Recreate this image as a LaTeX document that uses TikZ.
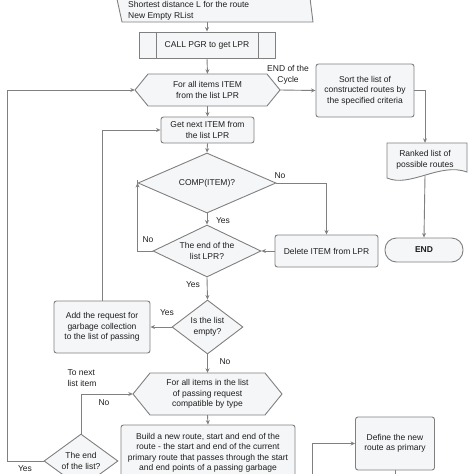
\documentclass[tikz,border=0pt]{standalone}
\usepackage{fontspec}
\setmainfont{Liberation Sans}
\usetikzlibrary{arrows.meta,shapes.geometric,calc}
\definecolor{linec}{HTML}{808080}
\definecolor{boxfill}{HTML}{F4F6F7}
\definecolor{txtc}{HTML}{1E1E1E}
\tikzset{
  box/.style={draw=linec, fill=boxfill, rounded corners=2.5pt, inner sep=0pt, align=center, line width=0.9pt},
  shp/.style={draw=linec, fill=boxfill, line width=0.9pt},
  dia/.style={diamond, draw=linec, fill=boxfill, line width=0.9pt, inner sep=0pt},
  conn/.style={draw=linec, line width=0.9pt, -{Stealth[length=4.5pt,width=4pt]}},
  plain/.style={draw=linec, line width=0.9pt},
  lbl/.style={inner sep=0pt, align=center},
  ghost/.style={inner sep=0pt, align=center}
}
\begin{document}
\begin{tikzpicture}[x=1pt, y=-1pt, font=\fontsize{8.5}{10.5}\selectfont, text=txtc]
\useasboundingbox (0,0) rectangle (474,474);
\clip (0,0) rectangle (474,474);

% input parallelogram (top, cut off)
\draw[shp] (115,-10) -- (309,-10) -- (313,22) -- (122,22) -- cycle;
\node[lbl, align=left, anchor=west] (inp) at (128,11) {Shortest distance L for the route\\New Empty RList};
\coordinate (inpb) at (207,22);

% predefined process
\node[box, rounded corners=0pt, minimum width=136, minimum height=26] (call) at (207,45) {CALL PGR to get LPR};
\draw[plain] ([xshift=18pt]call.north west) -- ([xshift=18pt]call.south west);
\draw[plain] ([xshift=-17pt]call.north east) -- ([xshift=-17pt]call.south east);

% hexagon 1
\draw[shp] (135,90) -- (148,74) -- (267,74) -- (280,90) -- (267,106) -- (148,106) -- cycle;
\node[ghost, minimum width=145, minimum height=32] (hex1) at (207.5,90) {For all items ITEM\\from the list LPR};

% sort box
\node[box, minimum width=98, minimum height=53] (sort) at (365,90.5) {Sort the list of\\constructed routes by\\the specified criteria};

% document
\draw[shp] (387,143) -- (467,143) -- (467,172) .. controls (440,162) and (410,188) .. (387,178) -- cycle;
\node[ghost, minimum width=76, minimum height=34] (docn) at (425,160) {Ranked list of\\possible routes};
\coordinate (docb) at (425,175.5);

% END terminal
\node[box, rounded corners=11.5pt, minimum width=78, minimum height=24, font=\fontsize{8.5}{10.5}\selectfont\bfseries] (endn) at (424,250) {END};

% get next
\node[box, minimum width=93, minimum height=26] (next) at (207.5,130) {Get next ITEM from\\the list LPR};

% COMP diamond
\node[dia, minimum width=138, minimum height=60] (comp) at (207,183) {};
\node[lbl] (compt) at (comp) {COMP(ITEM)?};

% end of list LPR diamond
\node[dia, minimum width=108, minimum height=52] (ep) at (207,251) {};
\node[lbl] (ept) at (ep) {The end of the\\list LPR?};

% delete
\node[box, minimum width=103, minimum height=32] (del) at (326.5,251) {Delete ITEM from LPR};

% is the list empty diamond
\node[dia, minimum width=71, minimum height=54] (empty) at (207.5,327) {};
\node[lbl] (emptyt) at (empty) {Is the list\\empty?};

% add request
\node[box, minimum width=96, minimum height=52] (add) at (102,327) {Add the request for\\garbage collection\\to the list of passing};

% hexagon 2
\draw[shp] (133,394) -- (150,373) -- (265,373) -- (282,394) -- (265,415) -- (150,415) -- cycle;
\node[ghost, minimum width=149, minimum height=42] (hex2) at (207.5,394) {For all items in the list\\of passing request\\compatible by type};

% end of list diamond
\node[dia, minimum width=74, minimum height=54] (el) at (81,461) {};
\node[lbl] (elt) at (el) {The end\\of the list?};

% build box
\node[box, minimum width=174, minimum height=56] (build) at (208,453) {Build a new route, start and end of the\\route - the start and end of the current\\primary route that passes through the start\\and end points of a passing garbage};

% define box
\node[box, minimum width=79, minimum height=53] (def) at (395,443.5) {Define the new\\route as primary};
\coordinate (fb) at (312,480);
\coordinate (db) at (395,480);

% connectors
\draw[conn] (inpb) -- (call.north);
\draw[conn] (call.south) -- (hex1.north);
\draw[conn] (hex1.east) -- (sort.west);
\draw[conn] (sort.east) -| (docn.north);
\draw[conn] (docb) -- (endn.north);
\draw[conn] (hex1.south) -- (next.north);
\draw[conn] (next.south) -- (comp.north);
\draw[conn] (comp.east) -| (del.north);
\draw[conn] (comp.south) -- (ep.north);
\draw[conn] (ep.west) -- ++(-15,0) |- (comp.west);
\draw[conn] (del.west) -- (ep.east);
\draw[conn] (ep.south) -- (empty.north);
\draw[conn] (empty.west) -- (add.east);
\draw[conn] (add.north) |- (next.west);
\draw[conn] (empty.south) -- (hex2.north);
\draw[conn] (hex2.south) -- (build.north);
\draw[conn] (el.north) |- (hex2.west);
\draw[conn] (el.west) -- ++(-36,0) |- (hex1.west);
\draw[conn] (fb) |- (def.west);
\draw[plain] (def.south) -- (db);

% labels
\node[lbl] (l1) at (288,75) {END of the\\Cycle};
\node[lbl] (l2) at (280,176) {No};
\node[lbl] (l3) at (223,221) {Yes};
\node[lbl] (l4) at (148,240) {No};
\node[lbl] (l5) at (193,285) {Yes};
\node[lbl] (l6) at (167,313) {Yes};
\node[lbl] (l7) at (225,362) {No};
\node[lbl, align=left] (l8) at (82,378) {To next\\list item};
\node[lbl] (l9) at (104,403) {No};
\node[lbl] (l10) at (25,469) {Yes};
\end{tikzpicture}
\end{document}
